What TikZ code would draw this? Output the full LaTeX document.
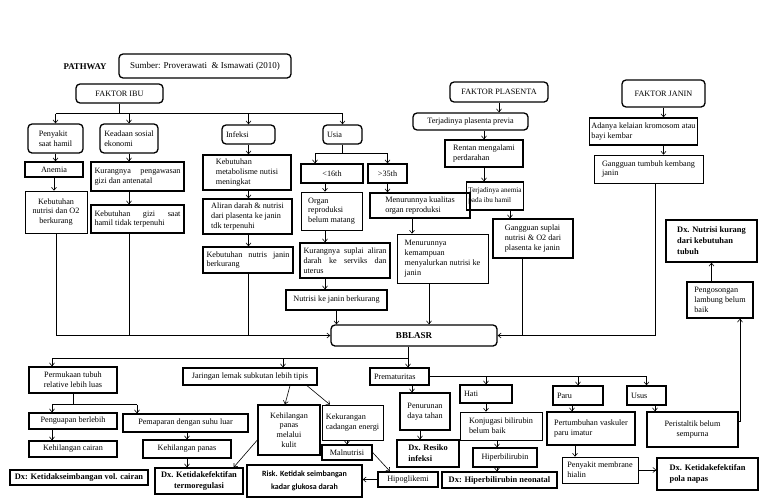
\documentclass[tikz,border=0pt]{standalone}
\usepackage{fontspec}
\setmainfont{Liberation Serif}
\newfontfamily\sansdx{Carlito}
\usetikzlibrary{arrows.meta}

\tikzset{
  kotak/.style={draw, line width=1.3pt, font=\fontsize{8.2}{9.8}\selectfont, align=left, inner sep=2pt},
  tipis/.style={line width=0.6pt},
  bulat/.style={rounded corners=4pt},
  diagnosa/.style={font=\bfseries\fontsize{8.4}{11}\selectfont},
  ukuran/.style 2 args={minimum width=#1pt, minimum height=#2pt},
  lebar/.style={text width=#1pt},
  rata/.style={align=justify, text width=#1pt},
}

\begin{document}
\begin{tikzpicture}[x=1pt, y=-1pt, line width=0.6pt, >={Straight Barb[length=3pt,width=5pt]}]
    \useasboundingbox (0,0) rectangle (768,501);

    % judul
    \node[font=\bfseries\fontsize{8.8}{10}\selectfont] (judul) at (85,67) {PATHWAY};
    \node[kotak, bulat, ukuran={172}{24}, align=center, font=\fontsize{9}{10}\selectfont] (sumber) at (205,66) {Sumber: Proverawati~ \& Ismawati (2010)};

    % faktor ibu
    \node[kotak, bulat, ukuran={87}{19}, align=center] (ibu) at (119.5,93.5) {FAKTOR IBU};
    \node[kotak, bulat, ukuran={55}{29}] (penyakit) at (55.5,138.5) {Penyakit\\saat hamil};
    \node[kotak, bulat, ukuran={58}{29}] (sosial) at (129,138.5) {Keadaan sosial\\ekonomi};
    \node[kotak, bulat, ukuran={53}{19}, lebar=45] (infeksi) at (248.5,134.5) {Infeksi};
    \node[kotak, bulat, ukuran={39}{19}, lebar=31] (usia) at (342.5,134.5) {Usia};

    \node[kotak, ukuran={58}{15}, align=center] (anemia) at (54,169.5) {Anemia};
    \node[kotak, tipis, ukuran={62}{42}, align=center] (nutrio2) at (56,212) {Kebutuhan\\nutrisi dan O2\\berkurang};
    \node[kotak, ukuran={93}{29}, rata=86] (pengawasan) at (137.5,176.5) {Kurangnya pengawasan\linebreak gizi dan antenatal};
    \node[kotak, ukuran={93}{28}, rata=86] (gizi) at (137.5,219) {Kebutuhan gizi saat\linebreak hamil tidak terpenuhi};
    \node[kotak, ukuran={88}{35}] (metab) at (247,172.5) {Kebutuhan\\metabolisme nutisi\\meningkat};
    \node[kotak, ukuran={89}{35}] (aliran) at (247.5,216.5) {Aliran darah \& nutrisi\\dari plasenta ke janin\\tdk terpenuhi};
    \node[kotak, ukuran={90}{26}, rata=83] (janin1) at (248,260) {Kebutuhan nutris janin\linebreak berkurang};

    \node[kotak, ukuran={62}{19}, align=center] (kurang16) at (332,173.5) {<16th};
    \node[kotak, ukuran={39}{19}, align=center] (lebih35) at (387.5,173.5) {>35th};
    \node[kotak, tipis, ukuran={61}{38}] (organ) at (331.5,211) {Organ\\reproduksi\\belum matang};
    \node[kotak, ukuran={100}{25}] (kualitas) at (420,205.5) {Menurunnya kualitas\\organ reproduksi};
    \node[kotak, ukuran={90}{35}, rata=83] (suplai) at (345,260.5) {Kurangnya suplai aliran\linebreak darah ke serviks dan\linebreak uterus};
    \node[kotak, ukuran={101}{20}, align=center] (nutrijanin) at (336.5,300) {Nutrisi ke janin berkurang};
    \node[kotak, tipis, ukuran={91}{49}] (kemampuan) at (442.5,258.5) {Menurunnya\\kemampuan\\menyalurkan nutrisi ke\\janin};

    % faktor plasenta
    \node[kotak, bulat, ukuran={98}{20}, align=center] (plasenta) at (499,92) {FAKTOR PLASENTA};
    \node[kotak, bulat, ukuran={115}{17}, align=center] (previa) at (470.5,121.5) {Terjadinya plasenta previa};
    \node[kotak, ukuran={78}{27}] (rentan) at (484,153.5) {Rentan mengalami\\perdarahan};
    \node[kotak, ukuran={56}{28}, font=\fontsize{7.2}{9.5}\selectfont] (anemiaibu) at (495,196) {Terjadinya anemia\\pada ibu hamil};
    \node[kotak, ukuran={80}{39}] (gangguan) at (533,238.5) {Gangguan suplai\\nutrisi \& O2 dari\\plasenta ke janin};

    % faktor janin
    \node[kotak, bulat, ukuran={83}{27}, align=center] (janin) at (663.5,93.5) {FAKTOR JANIN};
    \node[kotak, ukuran={107}{27}] (kromosom) at (643.5,131.5) {Adanya kelaian kromosom atau\\bayi kembar};
    \node[kotak, tipis, ukuran={109}{28}] (tumbuh) at (648.5,169) {Gangguan tumbuh kembang\\janin};
    \node[kotak, diagnosa, ukuran={91}{42}] (dxnutrisi) at (711.5,241) {Dx. Nutrisi kurang\\dari kebutuhan\\tubuh};
    \node[kotak, ukuran={66}{36}] (lambung) at (720,300) {Pengosongan\\lambung belum\\baik};

    % BBLASR
    \node[kotak, bulat, ukuran={166}{21}, font=\bfseries\fontsize{9}{10}\selectfont] (bblasr) at (414,335.5) {BBLASR};

    % akibat
    \node[kotak, ukuran={88}{26}, align=center] (permukaan) at (73,380) {Permukaan tubuh\\relative lebih luas};
    \node[kotak, ukuran={134}{17}, align=center] (jaringan) at (250,376.5) {Jaringan lemak subkutan lebih tipis};
    \node[kotak, ukuran={59}{17}, lebar=51] (prema) at (399.5,376.5) {Prematuritas};

    \node[kotak, ukuran={88}{16}, align=center] (penguapan) at (73,421) {Penguapan berlebih};
    \node[kotak, ukuran={125}{18}, align=center] (pemaparan) at (185.5,423) {Pemaparan dengan suhu luar};
    \node[kotak, ukuran={88}{16}, align=center] (kcairan) at (73,449) {Kehilangan cairan};
    \node[kotak, ukuran={88}{18}, align=center] (kpanas) at (187,449) {Kehilangan panas};
    \node[kotak, diagnosa, ukuran={138}{15}, align=center] (dxcairan) at (79,477.5) {Dx: Ketidakseimbangan vol. cairan};
    \node[kotak, diagnosa, ukuran={88}{26}, align=center] (dxtermo) at (199,481) {Dx. Ketidakefektifan\\termoregulasi};

    \node[kotak, ukuran={62}{50}, align=center] (kulit) at (289,430) {Kehilangan\\panas\\melalui\\kulit};
    \node[kotak, tipis, ukuran={61}{35}] (cadangan) at (352.5,422.5) {Kekurangan\\cadangan energi};
    \node[kotak, ukuran={50}{15}, align=center] (malnutrisi) at (347,452.5) {Malnutrisi};
    \node[kotak, ukuran={60}{15}, align=center] (hipo) at (408,479.5) {Hipoglikemi};
    \node[kotak, ukuran={115}{32}, align=center, font=\sansdx\bfseries\fontsize{8}{12.5}\selectfont] (risk) at (304.5,481) {Risk. Ketidak seimbangan\\kadar glukosa darah};

    \node[kotak, ukuran={50}{37}, align=center] (daya) at (425,411.5) {Penurunan\\daya tahan};
    \node[kotak, diagnosa, ukuran={62}{27}] (dxinfeksi) at (428,453.5) {Dx. Resiko\\infeksi};
    \node[kotak, ukuran={52}{18}, lebar=44] (hati) at (486,394) {Hati};
    \node[kotak, ukuran={50}{19}, lebar=42] (paru) at (578,395.5) {Paru};
    \node[kotak, ukuran={39}{19}, lebar=31] (usus) at (646.5,395.5) {Usus};
    \node[kotak, tipis, ukuran={82}{28}] (konjugasi) at (501,426) {Konjugasi bilirubin\\belum baik};
    \node[kotak, ukuran={64}{19}, align=center] (hiper) at (505,457.5) {Hiperbilirubin};
    \node[kotak, diagnosa, ukuran={115}{16}, align=center] (dxhiper) at (499.5,480) {Dx: Hiperbilirubin neonatal};
    \node[kotak, ukuran={88}{33}] (vaskuler) at (591,428.5) {Pertumbuhan vaskuler\\paru imatur};
    \node[kotak, tipis, ukuran={76}{26}] (hialin) at (600,470) {Penyakit membrane\\hialin};
    \node[kotak, diagnosa, ukuran={101}{32}] (dxnapas) at (707.5,474) {Dx. Ketidakefektifan\\pola napas};
    \node[kotak, ukuran={91}{35}, align=center] (peristaltik) at (692.5,429.5) {Peristaltik belum\\sempurna};

    % cabang faktor ibu
    \draw (ibu.south) -- ++(0,10) coordinate (cibu);
    \draw (penyakit.north |- cibu) -- (usia.north |- cibu);
    \foreach \n in {penyakit,sosial,infeksi,usia}
        \draw[->] (\n.north |- cibu) -- (\n.north);
    \draw[->] (penyakit.south) -- (penyakit.south |- anemia.north);
    \draw[->] (anemia.south) -- (anemia.south |- nutrio2.north);
    \draw[->] (sosial.south) -- (sosial.south |- pengawasan.north);
    \draw[->] (sosial.south |- pengawasan.south) -- (sosial.south |- gizi.north);
    \draw[->] (infeksi.south) -- (infeksi.south |- metab.north);
    \draw[->] (infeksi.south |- metab.south) -- (infeksi.south |- aliran.north);
    \draw[->] (infeksi.south |- aliran.south) -- (infeksi.south |- janin1.north);

    % cabang usia
    \draw (usia.south) -- ++(0,9) coordinate (cusia);
    \coordinate (k16) at ([xshift=-17]kurang16.north);
    \coordinate (k16b) at ([xshift=-7]kurang16.south);
    \draw (k16 |- cusia) -- (lebih35.north |- cusia);
    \draw[->] (k16 |- cusia) -- (k16);
    \draw[->] (lebih35.north |- cusia) -- (lebih35.north);
    \draw[->] (k16b) -- (k16b |- organ.north);
    \draw[->] (k16b |- organ.south) -- (k16b |- suplai.north);
    \draw[->] (k16b |- suplai.south) -- (k16b |- nutrijanin.north);
    \draw[->] (lebih35.south) -- (lebih35.south |- kualitas.north);
    \coordinate (tkemampuan) at ([xshift=-30.5]kemampuan.north);
    \draw[->] (tkemampuan |- kualitas.south) -- (tkemampuan);

    % plasenta dan janin
    \draw[->] (plasenta.south) -- (plasenta.south |- previa.north);
    \draw[->] (rentan.north |- previa.south) -- (rentan.north);
    \draw[->] (rentan.south) -- (rentan.south |- anemiaibu.north);
    \coordinate (tgangguan) at ([xshift=-23]gangguan.north);
    \draw[->] (tgangguan |- anemiaibu.south) -- (tgangguan);
    \draw[->] (janin.south) -- (janin.south |- kromosom.north);
    \draw[->] (janin.south |- kromosom.south) -- (janin.south |- tumbuh.north);

    % menuju BBLASR
    \draw[->] (nutrio2.south) |- (bblasr.west);
    \draw (sosial.south |- gizi.south) -- (sosial.south |- bblasr.west);
    \draw (janin1.south) -- (janin1.south |- bblasr.west);
    \draw[->] (nutrijanin.south) -- (nutrijanin.south |- bblasr.north);
    \coordinate (bkemampuan) at ([xshift=-13.5]kemampuan.south);
    \draw[->] (bkemampuan) -- (bkemampuan |- bblasr.north);
    \coordinate (bgangguan) at ([xshift=-11]gangguan.south);
    \draw (bgangguan) -- (bgangguan |- bblasr.east);
    \coordinate (btumbuh) at ([xshift=6.5]tumbuh.south);
    \draw[->] (btumbuh) |- (bblasr.east);

    % dari BBLASR
    \coordinate (cbb) at ([yshift=-12]bblasr.south);
    \coordinate (tpermukaan) at ([xshift=-21]permukaan.north);
    \coordinate (tjaringan) at ([xshift=33]jaringan.north);
    \coordinate (tprema) at ([xshift=8.5]prema.north);
    \draw[->] (tprema |- bblasr.south) -- (tprema);
    \draw (tpermukaan |- cbb) -- (tprema |- cbb);
    \draw[->] (tpermukaan |- cbb) -- (tpermukaan);
    \draw[->] (tjaringan |- cbb) -- (tjaringan);

    % permukaan tubuh
    \coordinate (cperm) at ([yshift=-11]permukaan.south);
    \coordinate (tpenguapan) at ([xshift=-21]penguapan.north);
    \coordinate (tpemaparan) at ([xshift=-48.5]pemaparan.north);
    \draw (permukaan.south) -- (cperm);
    \draw (tpenguapan |- cperm) -- (tpemaparan |- cperm);
    \draw[->] (tpenguapan |- cperm) -- (tpenguapan);
    \draw[->] (tpemaparan |- cperm) -- (tpemaparan);
    \draw[->] (tpenguapan |- penguapan.south) -- (tpenguapan |- kcairan.north);
    \draw[->] (kpanas.north |- pemaparan.south) -- (kpanas.north);
    \draw[->] (kpanas.south) -- (kpanas.south |- dxtermo.north);

    % jaringan lemak
    \coordinate (jk1) at ([xshift=40]jaringan.south);
    \coordinate (jk2) at ([xshift=57]jaringan.south);
    \draw[->] (jk1) -- ([xshift=-4]kulit.north);
    \draw[->] (jk2) -- ([xshift=-22.5]cadangan.north);
    \draw[->] ([yshift=-10]kulit.west) -- ([xshift=-10]dxtermo.north east);
    \draw[->] (malnutrisi.north |- cadangan.south) -- (malnutrisi.north);
    \draw[->] (malnutrisi.east) -- ([xshift=-18]hipo.north);
    \draw[->] (hipo.west) -- (hipo.west -| risk.east);

    % prematuritas
    \coordinate (tdaya) at ([xshift=-13]daya.north);
    \coordinate (tdx) at ([xshift=-8]dxinfeksi.north);
    \draw[->] (tdaya |- prema.south) -- (tdaya);
    \draw[->] (tdx |- daya.south) -- (tdx);
    \draw (prema.east) -- (prema.east -| usus.north);
    \foreach \n in {hati,paru,usus}
        \draw[->] (prema.east -| \n.north) -- (\n.north);
    \draw[->] (hati.south) -- (hati.south |- konjugasi.north);
    \coordinate (thiper) at ([xshift=-8]hiper.north);
    \draw[->] (thiper |- konjugasi.south) -- (thiper);
    \draw[->] (thiper |- hiper.south) -- (thiper |- dxhiper.north);
    \coordinate (tvask) at ([xshift=-19]vaskuler.north);
    \draw[->] (tvask |- paru.south) -- (tvask);
    \coordinate (thialin) at ([xshift=-25]hialin.north);
    \draw[->] (thialin |- vaskuler.south) -- (thialin);
    \draw[->] (hialin.east) -- (hialin.east -| dxnapas.west);
    \coordinate (tper) at ([xshift=-37.5]peristaltik.north);
    \draw[->] (tper |- usus.south) -- (tper);

    % usus ke lambung
    \coordinate (blambung) at ([xshift=20]lambung.south);
    \draw[->] ([yshift=8]peristaltik.east) -| (blambung);
    \draw[->] (dxnutrisi.south |- lambung.north) -- (dxnutrisi.south);

\end{tikzpicture}
\end{document}
